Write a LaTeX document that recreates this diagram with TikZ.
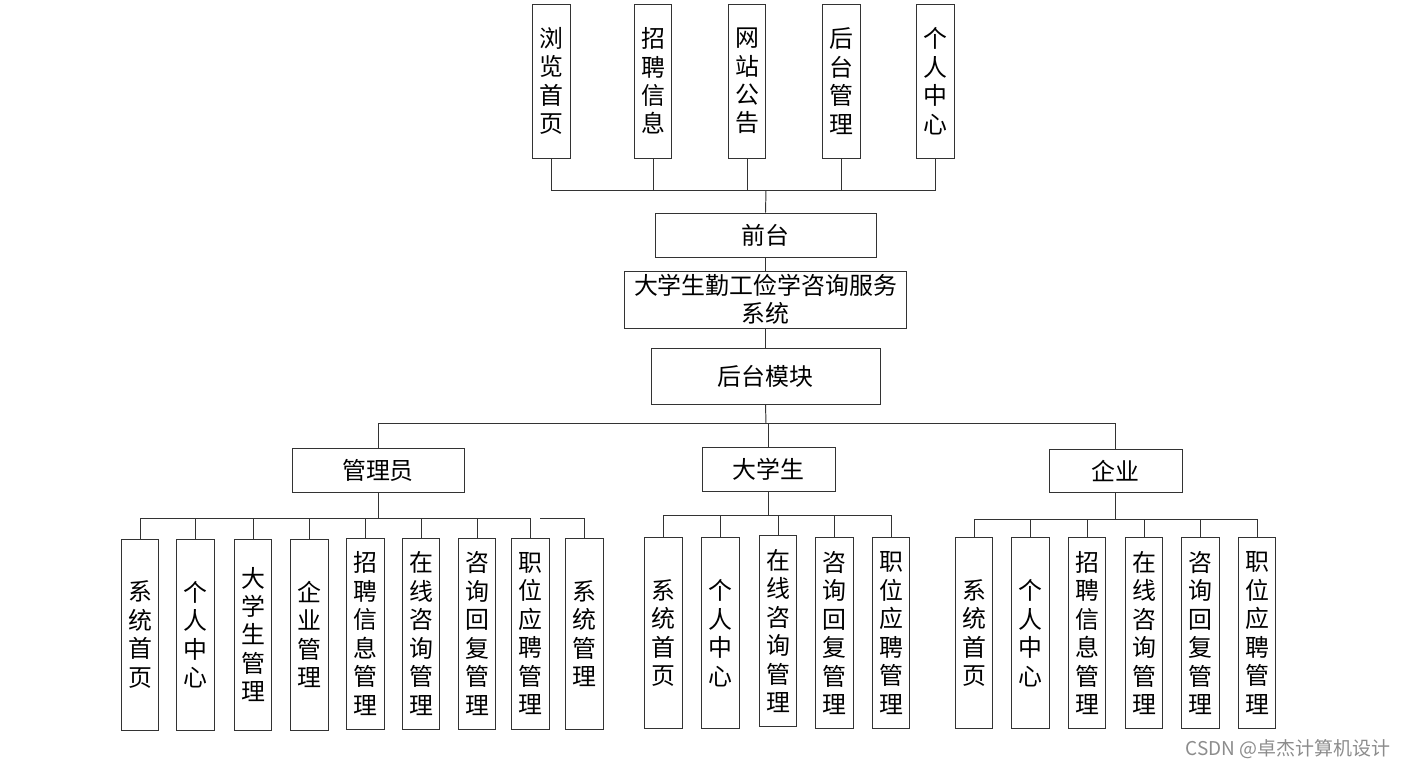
\documentclass[tikz,border=0pt]{standalone}
\usepackage{fontspec}
\setmainfont{Noto Sans CJK SC}
\usetikzlibrary{positioning}

\begin{document}
\begin{tikzpicture}[x=0.02cm, y=-0.02cm, font=\fontsize{13.6}{16.2}\selectfont,
  line width=0.55pt, draw=black!80,
  hbox/.style={draw=black!80, inner sep=0pt, minimum height=8.8mm, align=center},
  topbox/.style={draw=black!80, inner sep=0pt, minimum width=7.5mm, minimum height=30.8mm, align=center},
  leaf/.style={draw=black!80, inner sep=0pt, minimum width=7.5mm, minimum height=38.2mm, align=center},
  wm/.style={font=\fontsize{10.8}{12}\selectfont, text=black!45}]

\useasboundingbox (0,0) rectangle (1410,769);

% ---- front pages -------------------------------------------------------------------
\node[topbox] (t1) at (551.5,81) {浏\\览\\首\\页};
\node[topbox] (t2) at (653,81)   {招\\聘\\信\\息};
\node[topbox] (t3) at (747,81)   {网\\站\\公\\告};
\node[topbox] (t4) at (841.5,81) {后\\台\\管\\理};
\node[topbox] (t5) at (935.5,81) {个\\人\\中\\心};
\coordinate (topbus) at (766,190);

% ---- the spine ---------------------------------------------------------------------
\node[hbox, minimum width=44.2mm] (qiantai) at (765.5,235) {前台};
\node[hbox, minimum width=56.6mm, minimum height=11.4mm] (sys) at (765.5,299.5)
  {大学生勤工俭学咨询服务\\系统};
\node[hbox, minimum width=45.8mm, minimum height=11.2mm] (houtai) at (765.5,376) {后台模块};
\coordinate (midbus) at (766,423.5);

% ---- roles -------------------------------------------------------------------------
\node[hbox, minimum width=34.4mm] (admin) at (378,470)      {管理员};
\node[hbox, minimum width=26.6mm] (student) at (768.5,469)  {大学生};
\node[hbox, minimum width=26.6mm, minimum height=8.6mm] (firm) at (1115.5,470.5) {企业};

% ---- admin leaves ------------------------------------------------------------------
\node[leaf] (a1) at (140,634.5)   {系\\统\\首\\页};
\node[leaf] (a2) at (195.5,634.5) {个\\人\\中\\心};
\node[leaf] (a3) at (253,634.5)   {大\\学\\生\\管\\理};
\node[leaf] (a4) at (309.5,634.5) {企\\业\\管\\理};
\node[leaf] (a5) at (365.5,633.5) {招\\聘\\信\\息\\管\\理};
\node[leaf] (a6) at (421,633.5)   {在\\线\\咨\\询\\管\\理};
\node[leaf] (a7) at (477,633.5)   {咨\\询\\回\\复\\管\\理};
\node[leaf] (a8) at (530.5,633.5) {职\\位\\应\\聘\\管\\理};
\node[leaf] (a9) at (584.5,633.5) {系\\统\\管\\理};
\coordinate (adminbus) at (378,518);
\coordinate (adminend) at (540,518);

% ---- student leaves ----------------------------------------------------------------
\node[leaf] (s1) at (663.5,633) {系\\统\\首\\页};
\node[leaf] (s2) at (720.5,633) {个\\人\\中\\心};
\node[leaf] (s3) at (778,631)   {在\\线\\咨\\询\\管\\理};
\node[leaf] (s4) at (834.5,633) {咨\\询\\回\\复\\管\\理};
\node[leaf] (s5) at (891,633)   {职\\位\\应\\聘\\管\\理};
\coordinate (studbus) at (768.5,515);

% ---- firm leaves -------------------------------------------------------------------
\node[leaf] (e1) at (974,633)    {系\\统\\首\\页};
\node[leaf] (e2) at (1030.5,633) {个\\人\\中\\心};
\node[leaf] (e3) at (1087,633)   {招\\聘\\信\\息\\管\\理};
\node[leaf] (e4) at (1144,633)   {在\\线\\咨\\询\\管\\理};
\node[leaf] (e5) at (1200.5,633) {咨\\询\\回\\复\\管\\理};
\node[leaf] (e6) at (1257,633)   {职\\位\\应\\聘\\管\\理};
\coordinate (firmbus) at (1115.5,519);

\node[wm] (mark) at (1288,749) {CSDN @卓杰计算机设计};

% ---- connectors --------------------------------------------------------------------
\draw (t1.south) |- (topbus);
\draw (t2.south) |- (topbus);
\draw (t3.south) |- (topbus);
\draw (t4.south) |- (topbus);
\draw (t5.south) |- (topbus);
\draw (topbus) -- (qiantai.north);
\draw (qiantai.south) -- (sys.north);
\draw (sys.south) -- (houtai.north);
\draw (houtai.south) -- (midbus);
\draw (admin.north) |- (midbus);
\draw (student.north) |- (midbus);
\draw (firm.north) |- (midbus);

\draw (admin.south) -- (adminbus);
\draw (a1.north) |- (adminbus);
\draw (a2.north) |- (adminbus);
\draw (a3.north) |- (adminbus);
\draw (a4.north) |- (adminbus);
\draw (a5.north) |- (adminbus);
\draw (a6.north) |- (adminbus);
\draw (a7.north) |- (adminbus);
\draw (a8.north) |- (adminbus);
\draw (a9.north) |- (adminend);

\draw (student.south) -- (studbus);
\draw (s1.north) |- (studbus);
\draw (s2.north) |- (studbus);
\draw (s3.north) |- (studbus);
\draw (s4.north) |- (studbus);
\draw (s5.north) |- (studbus);

\draw (firm.south) -- (firmbus);
\draw (e1.north) |- (firmbus);
\draw (e2.north) |- (firmbus);
\draw (e3.north) |- (firmbus);
\draw (e4.north) |- (firmbus);
\draw (e5.north) |- (firmbus);
\draw (e6.north) |- (firmbus);

\end{tikzpicture}
\end{document}
